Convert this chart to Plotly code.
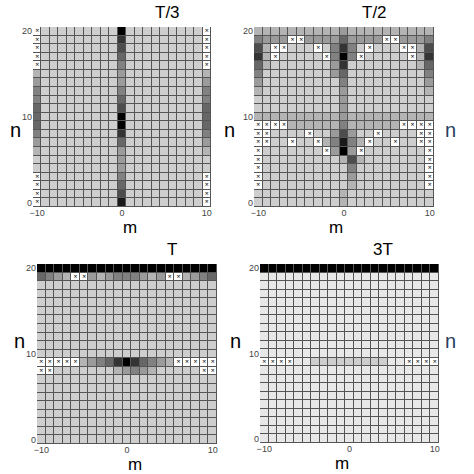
import plotly.graph_objects as go

# darkness level per cell, 0 (light) .. 9 (black), 'x' = marked cell (white with a cross)
# rows listed from n=20 (top) down to n=0, columns m=-10..10
m_vals = list(range(-10, 11))
n_vals = list(range(20, -1, -1))

t3_rows = [
    "x1111111119111111111x",
    "x1111111117111111111x",
    "x1111111116111111111x",
    "x1111111115111111111x",
    "x1111111114111111111x",
    "211111111131111111112",
    "311111111131111111113",
    "411111111141111111114",
    "411111111151111111114",
    "511111111161111111115",
    "511111111191111111115",
    "511111111191111111115",
    "411111111171111111114",
    "311111111151111111113",
    "211111111131111111112",
    "111111111131111111111",
    "111111111131111111111",
    "x1111111114111111111x",
    "x1111111115111111111x",
    "x1111111116111111111x",
    "x1111111118111111111x",
]

t2_rows = [
    "222222222232222222222",
    "4333xx333353333xx3334",
    "62xx111x14741x111xx26",
    "72x11111x494x11111x27",
    "521111111371111111125",
    "411111111351111111114",
    "311111111141111111113",
    "211111111131111111112",
    "111111111131111111111",
    "111111111131111111111",
    "222222222232222222222",
    "xxxx2222224222222xxxx",
    "xx1111x1136311x1111xx",
    "xx11x11x24842x11x11xx",
    "x1111111x393x1111111x",
    "x1111111112621111111x",
    "x1111111111411111111x",
    "x1111111111311111111x",
    "x1111111111211111111x",
    "111111111121111111111",
    "111111111121111111111",
]

t_rows = [
    "999999999999999999999",
    "5432xx323444323xx2345",
    "111111111111111111111",
    "111111111111111111111",
    "111111111111111111111",
    "111111111111111111111",
    "111111111111111111111",
    "111111111111111111111",
    "111111111111111111111",
    "111111111111111111111",
    "111111111111111111111",
    "xxxxx23457975432xxxxx",
    "xx11111112343211111xx",
    "111111111111111111111",
    "111111111111111111111",
    "111111111111111111111",
    "111111111111111111111",
    "111111111111111111111",
    "111111111111111111111",
    "111111111111111111111",
    "111111111111111111111",
]

t3T_rows = [
    "999999999999999999999",
    "000000000000000000000",
    "000000000000000000000",
    "000000000000000000000",
    "000000000000000000000",
    "000000000000000000000",
    "000000000000000000000",
    "000000000000000000000",
    "000000000000000000000",
    "000000000000000000000",
    "000000000000000000000",
    "xxxx0011111111100xxxx",
    "000000000000000000000",
    "000000000000000000000",
    "000000000000000000000",
    "000000000000000000000",
    "000000000000000000000",
    "000000000000000000000",
    "000000000000000000000",
    "000000000000000000000",
    "000000000000000000000",
]

panels = [("T/3", t3_rows), ("T/2", t2_rows), ("T", t_rows), ("3T", t3T_rows)]

# plot areas in pixels (x0, x1, y0, y1) measured on the 474x474 picture
W = 474
areas = [(33, 211, 27, 207), (254, 434, 27, 207), (37, 217, 264, 444), (260, 439, 264, 443)]

fig = go.Figure()
layout = dict(width=W, height=W, margin=dict(l=0, r=0, t=0, b=0),
              paper_bgcolor="white", showlegend=False, annotations=[])

colorscale = [[0, "white"], [0.499, "white"], [0.5, "rgb(232,232,232)"], [1, "black"]]
tick_font = dict(size=9, color="#444", family="Liberation Sans")

for i, ((title, rows), (x0, x1, y0, y1)) in enumerate(zip(panels, areas)):
    sfx = "" if i == 0 else str(i + 1)
    z = []
    cx, cy = [], []
    for r, n in zip(rows, n_vals):
        assert len(r) == 21, (title, n, r)
        zr = []
        for c, m in zip(r, m_vals):
            if c == "x":
                zr.append(-1)
                cx.append(m)
                cy.append(n)
            else:
                zr.append(int(c) / 9)
        z.append(zr)
    fig.add_trace(go.Heatmap(x=m_vals, y=n_vals, z=z, zmin=-1, zmax=1, colorscale=colorscale,
                             showscale=False, xgap=1, ygap=1, hoverinfo="skip",
                             xaxis="x" + sfx, yaxis="y" + sfx))
    fig.add_trace(go.Scatter(x=cx, y=cy, mode="text", text=["×"] * len(cx),
                             textfont=dict(size=7, color="black"), hoverinfo="skip",
                             xaxis="x" + sfx, yaxis="y" + sfx))
    layout["xaxis" + sfx] = dict(domain=[x0 / W, x1 / W], range=[-10.5, 10.5], anchor="y" + sfx,
                                 tickvals=[-10, 0, 10], showgrid=False, zeroline=False,
                                 tickfont=tick_font, ticks="", showline=False, automargin=False,
                                 ticklabelstandoff=-1)
    layout["yaxis" + sfx] = dict(domain=[1 - y1 / W, 1 - y0 / W], range=[-0.5, 20.5], anchor="x" + sfx,
                                 tickvals=[0, 10, 20], showgrid=False, zeroline=False,
                                 tickfont=tick_font, ticks="", showline=False, automargin=False)
    cxm = (x0 + x1) / 2
    layout["annotations"] += [
        dict(text=title, x=(cxm + 45) / W, y=1 - (y0 - 3) / W, yanchor="bottom", xref="paper", yref="paper",
             showarrow=False, font=dict(size=17, family="Liberation Sans", color="black")),
        dict(text="m", x=cxm / W, y=1 - (y1 + 10) / W, yanchor="top", borderpad=0, xref="paper", yref="paper",
             showarrow=False, font=dict(size=17, family="Liberation Sans", color="black")),
        dict(text="n", x=(x0 - 25) / W, y=1 - ((y0 + y1) / 2) / W, xref="paper", yref="paper",
             showarrow=False, font=dict(size=20, family="Liberation Sans", color="black")),
    ]

# partial third column cut off at the right edge
for yy in (117, 354):
    layout["annotations"].append(dict(text="n", x=458 / W, y=1 - yy / W, xref="paper", yref="paper",
                                      showarrow=False, font=dict(size=20, family="Liberation Sans")))

fig.update_layout(**layout)
fig.update_layout(plot_bgcolor="rgb(85,85,85)")
fig.write_html("out.html", config={"displayModeBar": False},
               post_script="document.body.style.margin='0';document.body.style.overflow='hidden';")
